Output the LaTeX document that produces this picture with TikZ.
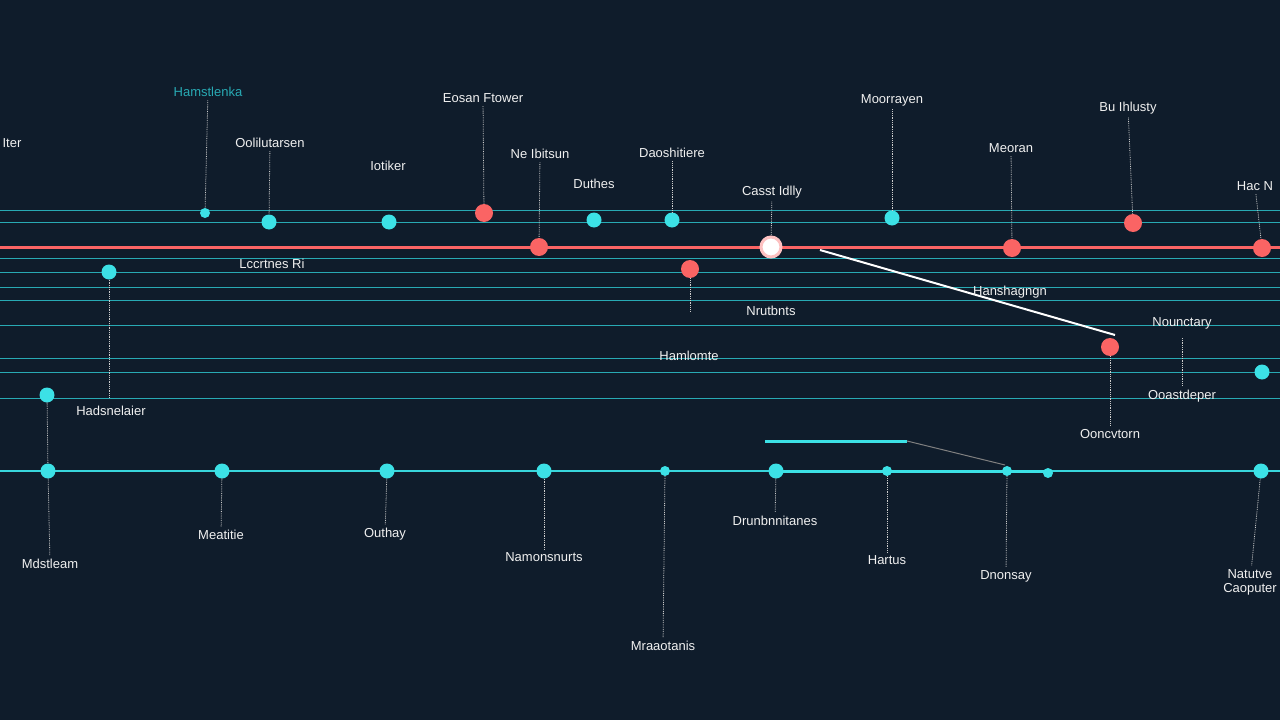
\documentclass[tikz,border=0pt]{standalone}
\usepackage{fontspec}
\setmainfont{Liberation Sans}
\definecolor{cy}{RGB}{60,225,230}
\definecolor{cyl}{RGB}{40,170,180}
\definecolor{rd}{RGB}{250,100,100}
\begin{document}
\begin{tikzpicture}[x=1pt,y=-1pt,
  cl/.style={draw=cyl,line width=1pt},
  cdot/.style={circle,fill=cy,minimum size=15pt,inner sep=0pt},
  sdot/.style={circle,fill=cy,minimum size=10pt,inner sep=0pt},
  rdot/.style={circle,fill=rd,minimum size=18pt,inner sep=0pt},
  wdot/.style={circle,fill=white,minimum size=20pt,inner sep=0pt,draw=rd!40,line width=3pt},
  lab/.style={text=white!88!gray,font=\fontsize{13}{14}\selectfont},
  tl/.style={lab,text=cyl},
  dl/.style={draw=white!60!gray,densely dotted,line width=0.8pt}]
\fill[fill={rgb,255:red,15;green,28;blue,43}] (0,0) rectangle (1280,720);
\useasboundingbox (0,0) rectangle (1280,720);
\foreach \y in {210,222,258,272,287,300,325,358,372,398}{\draw[cl] (0,\y)--(1280,\y);}
\draw[draw=rd,line width=3pt] (0,247)--(1280,247);
\draw[cl,line width=2pt,draw=cy!80!cyl] (0,471)--(1280,471);
\draw[line width=3pt,draw=cy] (765,441)--(907,441);
\draw[draw=gray,line width=1pt] (907,441)--(1005,465);
\draw[line width=3pt,draw=cy] (776,471)--(1048,471);
\draw[white,line width=2pt] (820,250)--(1115,335);
% nodes
\node[sdot] (t1) at (205,213){};\node[cdot] (t2) at (269,222){};\node[cdot] (t3) at (389,222){};
\node[cdot] (t4) at (594,220){};\node[cdot] (t5) at (672,220){};\node[cdot] (t6) at (892,218){};
\node[rdot] (r1) at (484,213){};\node[rdot] (r2) at (539,247){};\node[rdot] (r3) at (690,269){};
\node[wdot] (r4) at (771,247){};\node[rdot] (r5) at (1012,248){};\node[rdot] (r6) at (1133,223){};
\node[rdot] (r7) at (1262,248){};\node[rdot] (r8) at (1110,347){};
\node[cdot] (c1) at (109,272){};\node[cdot] (c2) at (47,395){};\node[cdot] (c3) at (1262,372){};
\node[cdot] (b1) at (48,471){};\node[cdot] (b2) at (222,471){};\node[cdot] (b3) at (387,471){};
\node[cdot] (b4) at (544,471){};\node[sdot] (b5) at (665,471){};\node[cdot] (b6) at (776,471){};
\node[sdot] (b7) at (887,471){};\node[sdot] (b8) at (1007,471){};\node[sdot] (b9) at (1048,473){};
\node[cdot] (b10) at (1261,471){};
% labels
\node[tl] (l1) at (208,92){Hamstlenka};
\node[lab] (l2) at (270,143){Oolilutarsen};
\node[lab] (l3) at (388,166){Iotiker};
\node[lab] (l4) at (483,98){Eosan Ftower};
\node[lab] (l5) at (540,154){Ne Ibitsun};
\node[lab] (l6) at (594,184){Duthes};
\node[lab] (l7) at (672,153){Daoshitiere};
\node[lab] (l8) at (772,192){Casst Idlly};
\node[lab] (l9) at (892,100){Moorrayen};
\node[lab] (l10) at (1011,148){Meoran};
\node[lab] (l11) at (1128,108){Bu Ihlusty};
\node[lab] (l12) at (1255,186){Hac N};
\node[lab] (l13) at (12,143){Iter};
\node[lab] (l14) at (272,264){Lccrtnes Ri};
\node[lab] (l15) at (771,311){Nrutbnts};
\node[lab] (l16) at (1010,292){Hanshagngn};
\node[lab] (l17) at (1182,323){Nounctary};
\node[lab] (l18) at (689,356){Hamlomte};
\node[lab] (l19) at (111,411){Hadsnelaier};
\node[lab] (l20) at (1182,396){Ooastdeper};
\node[lab] (l21) at (1110,434){Ooncvtorn};
\node[lab] (m1) at (50,564){Mdstleam};
\node[lab] (m2) at (221,535){Meatitie};
\node[lab] (m3) at (385,534){Outhay};
\node[lab] (m4) at (544,557){Namonsnurts};
\node[lab] (m5) at (663,646){Mraaotanis};
\node[lab] (m6) at (775,521){Drunbnnitanes};
\node[lab] (m7) at (887,560){Hartus};
\node[lab] (m8) at (1006,576){Dnonsay};
\node[lab,align=center] (m9) at (1250,582){Natutve\\Caoputer};
% connectors
\draw[dl] (l1)--(t1);\draw[dl] (l2)--(t2);\draw[dl] (l4)--(r1);\draw[dl] (l5)--(r2);
\draw[dl] (l7)--(t5);\draw[dl] (l9)--(t6);\draw[dl] (l10)--(r5);\draw[dl] (l11)--(r6);
\draw[dl] (l12)--(r7);\draw[dl] (l8)--(r4);\draw[dl] (r3)--(690,312);
\draw[dl] (c1)--(109,398);\draw[dl] (c2)--(b1);\draw[dl] (r8)--(l21);\draw[dl] (1182,338)--(1182,385);
\draw[dl] (b1)--(m1);\draw[dl] (b2)--(m2);\draw[dl] (b3)--(m3);\draw[dl] (b4)--(m4);
\draw[dl] (b5)--(m5);\draw[dl] (b6)--(m6);\draw[dl] (b7)--(m7);\draw[dl] (b8)--(m8);\draw[dl] (b10)--(m9);
\end{tikzpicture}
\end{document}
